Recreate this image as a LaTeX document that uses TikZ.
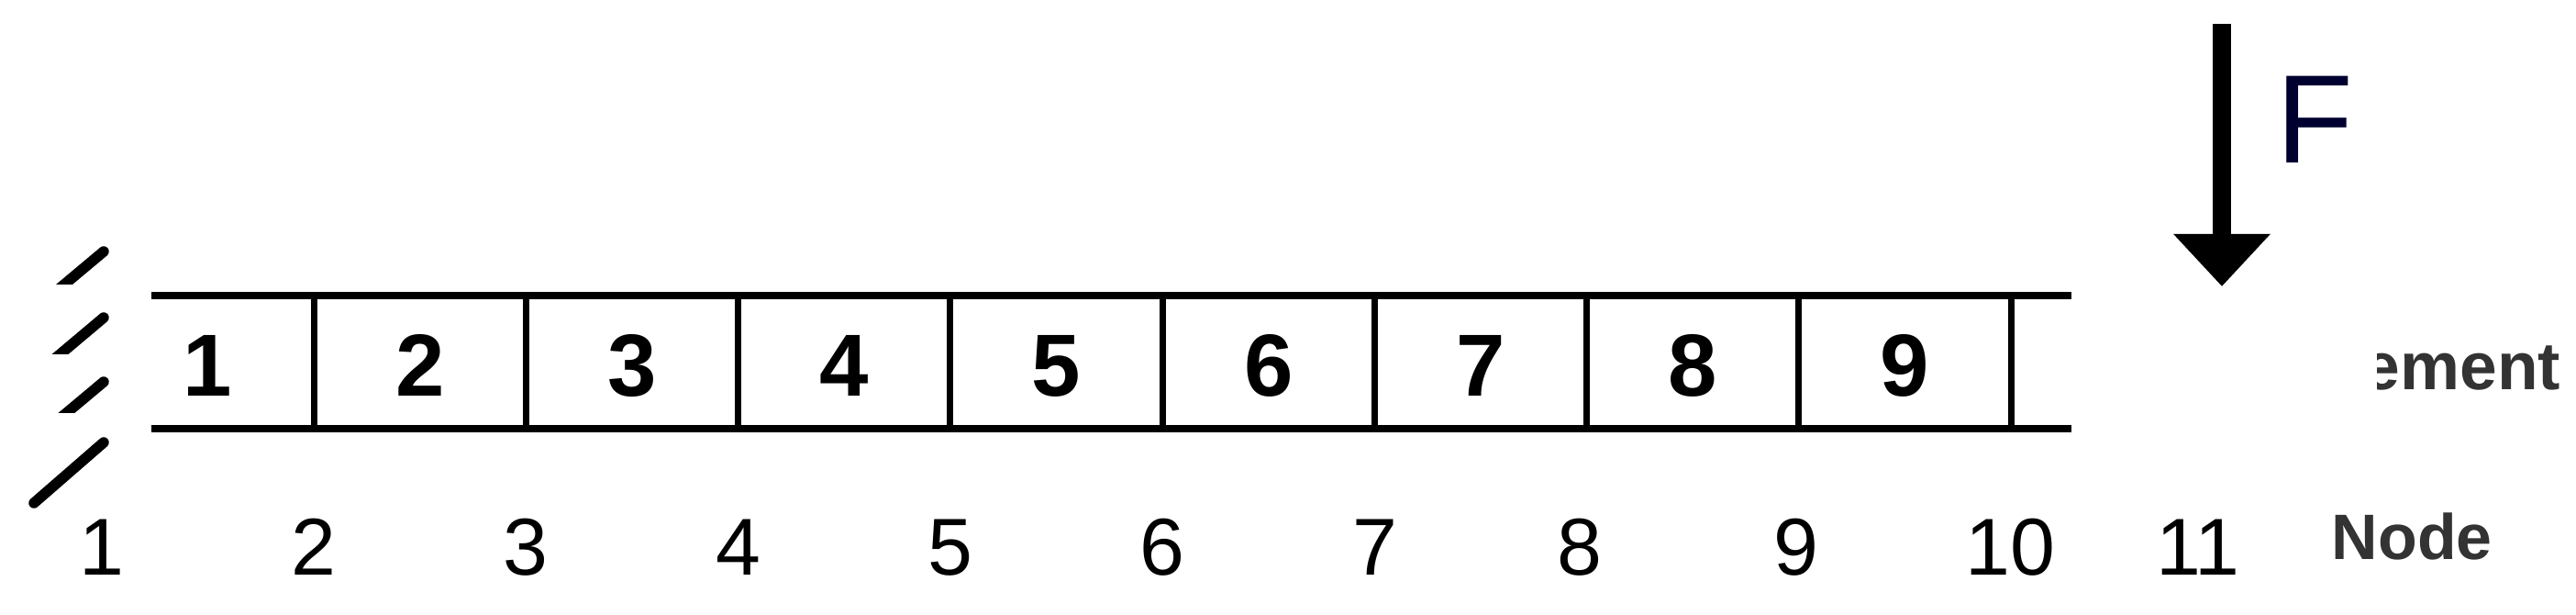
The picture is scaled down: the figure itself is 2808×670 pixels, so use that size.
\documentclass[tikz,border=0pt]{standalone}
\usepackage{fontspec}
\setmainfont{Liberation Sans}
\usetikzlibrary{arrows.meta}
\definecolor{fnavy}{RGB}{0,0,48}
\definecolor{lblgray}{RGB}{51,51,51}
\begin{document}
\begin{tikzpicture}[x=0.01cm,y=-0.01cm,
  barline/.style={line width=0.07cm},
  hatch/.style={line width=0.115cm, line cap=round},
  nodenum/.style={anchor=base, inner sep=0pt, font=\fontsize{25}{30}\selectfont},
  elemnum/.style={anchor=base, inner sep=0pt, font=\fontsize{27.3}{32}\selectfont\bfseries},
  tag/.style={inner sep=0pt, text=lblgray, font=\fontsize{19.9}{24}\selectfont\bfseries},
  force/.style={line width=0.2cm, -{Triangle[width=1.02cm,length=0.57cm]}},
  flabel/.style={anchor=base west, inner sep=0pt, text=fnavy, font=\fontsize{39}{46}\selectfont}]
\useasboundingbox (0,0) rectangle (2808,670);

% bar
\coordinate (barTL) at (165,322);
\coordinate (barTR) at (2258,322);
\coordinate (barBL) at (165,467);
\coordinate (barBR) at (2258,467);
\draw[barline] (barTL) -- (barTR);
\draw[barline] (barBL) -- (barBR);
\foreach \j in {0,...,8}{
  \draw[barline] ({342+231.25*\j},322) -- ({342+231.25*\j},467);
}

% element numbers
\foreach \k in {1,...,9}{
  \node[elemnum] (e\k) at ({111+231.25*(\k-0.5)},431) {\k};
}

% node numbers
\foreach \x/\n in {111/1, 342/2, 573/3, 805/4, 1036/5, 1267/6, 1499/7, 1722/8, 1958/9, 2191/10, 2396/11}{
  \node[nodenum] (n\n) at (\x,626) {\n};
}

% fixed support hatch
\begin{scope}
  \clip (0,0) rectangle (200,310);
  \draw[hatch] (113,274) -- (58,320);
\end{scope}
\begin{scope}
  \clip (0,320) rectangle (200,385);
  \draw[hatch] (113,346) -- (50,399);
\end{scope}
\begin{scope}
  \clip (0,395) rectangle (200,449);
  \draw[hatch] (113,416) -- (58,462);
\end{scope}
\draw[hatch] (113,482) -- (37,548);

% force
\coordinate (Ftop) at (2422,26);
\coordinate (Ftip) at (2422,312);
\draw[force] (Ftop) -- (Ftip);
\node[flabel] (F) at (2481,178) {F};

% row labels
\begin{scope}
  \clip (2591,300) rectangle (2808,460);
  \node[tag, anchor=base east, font=\fontsize{20.8}{25}\selectfont\bfseries] (elabel) at (2792,424) {Element};
\end{scope}
\node[tag, anchor=base west] (nlabel) at (2541,609) {Node};
\end{tikzpicture}
\end{document}
